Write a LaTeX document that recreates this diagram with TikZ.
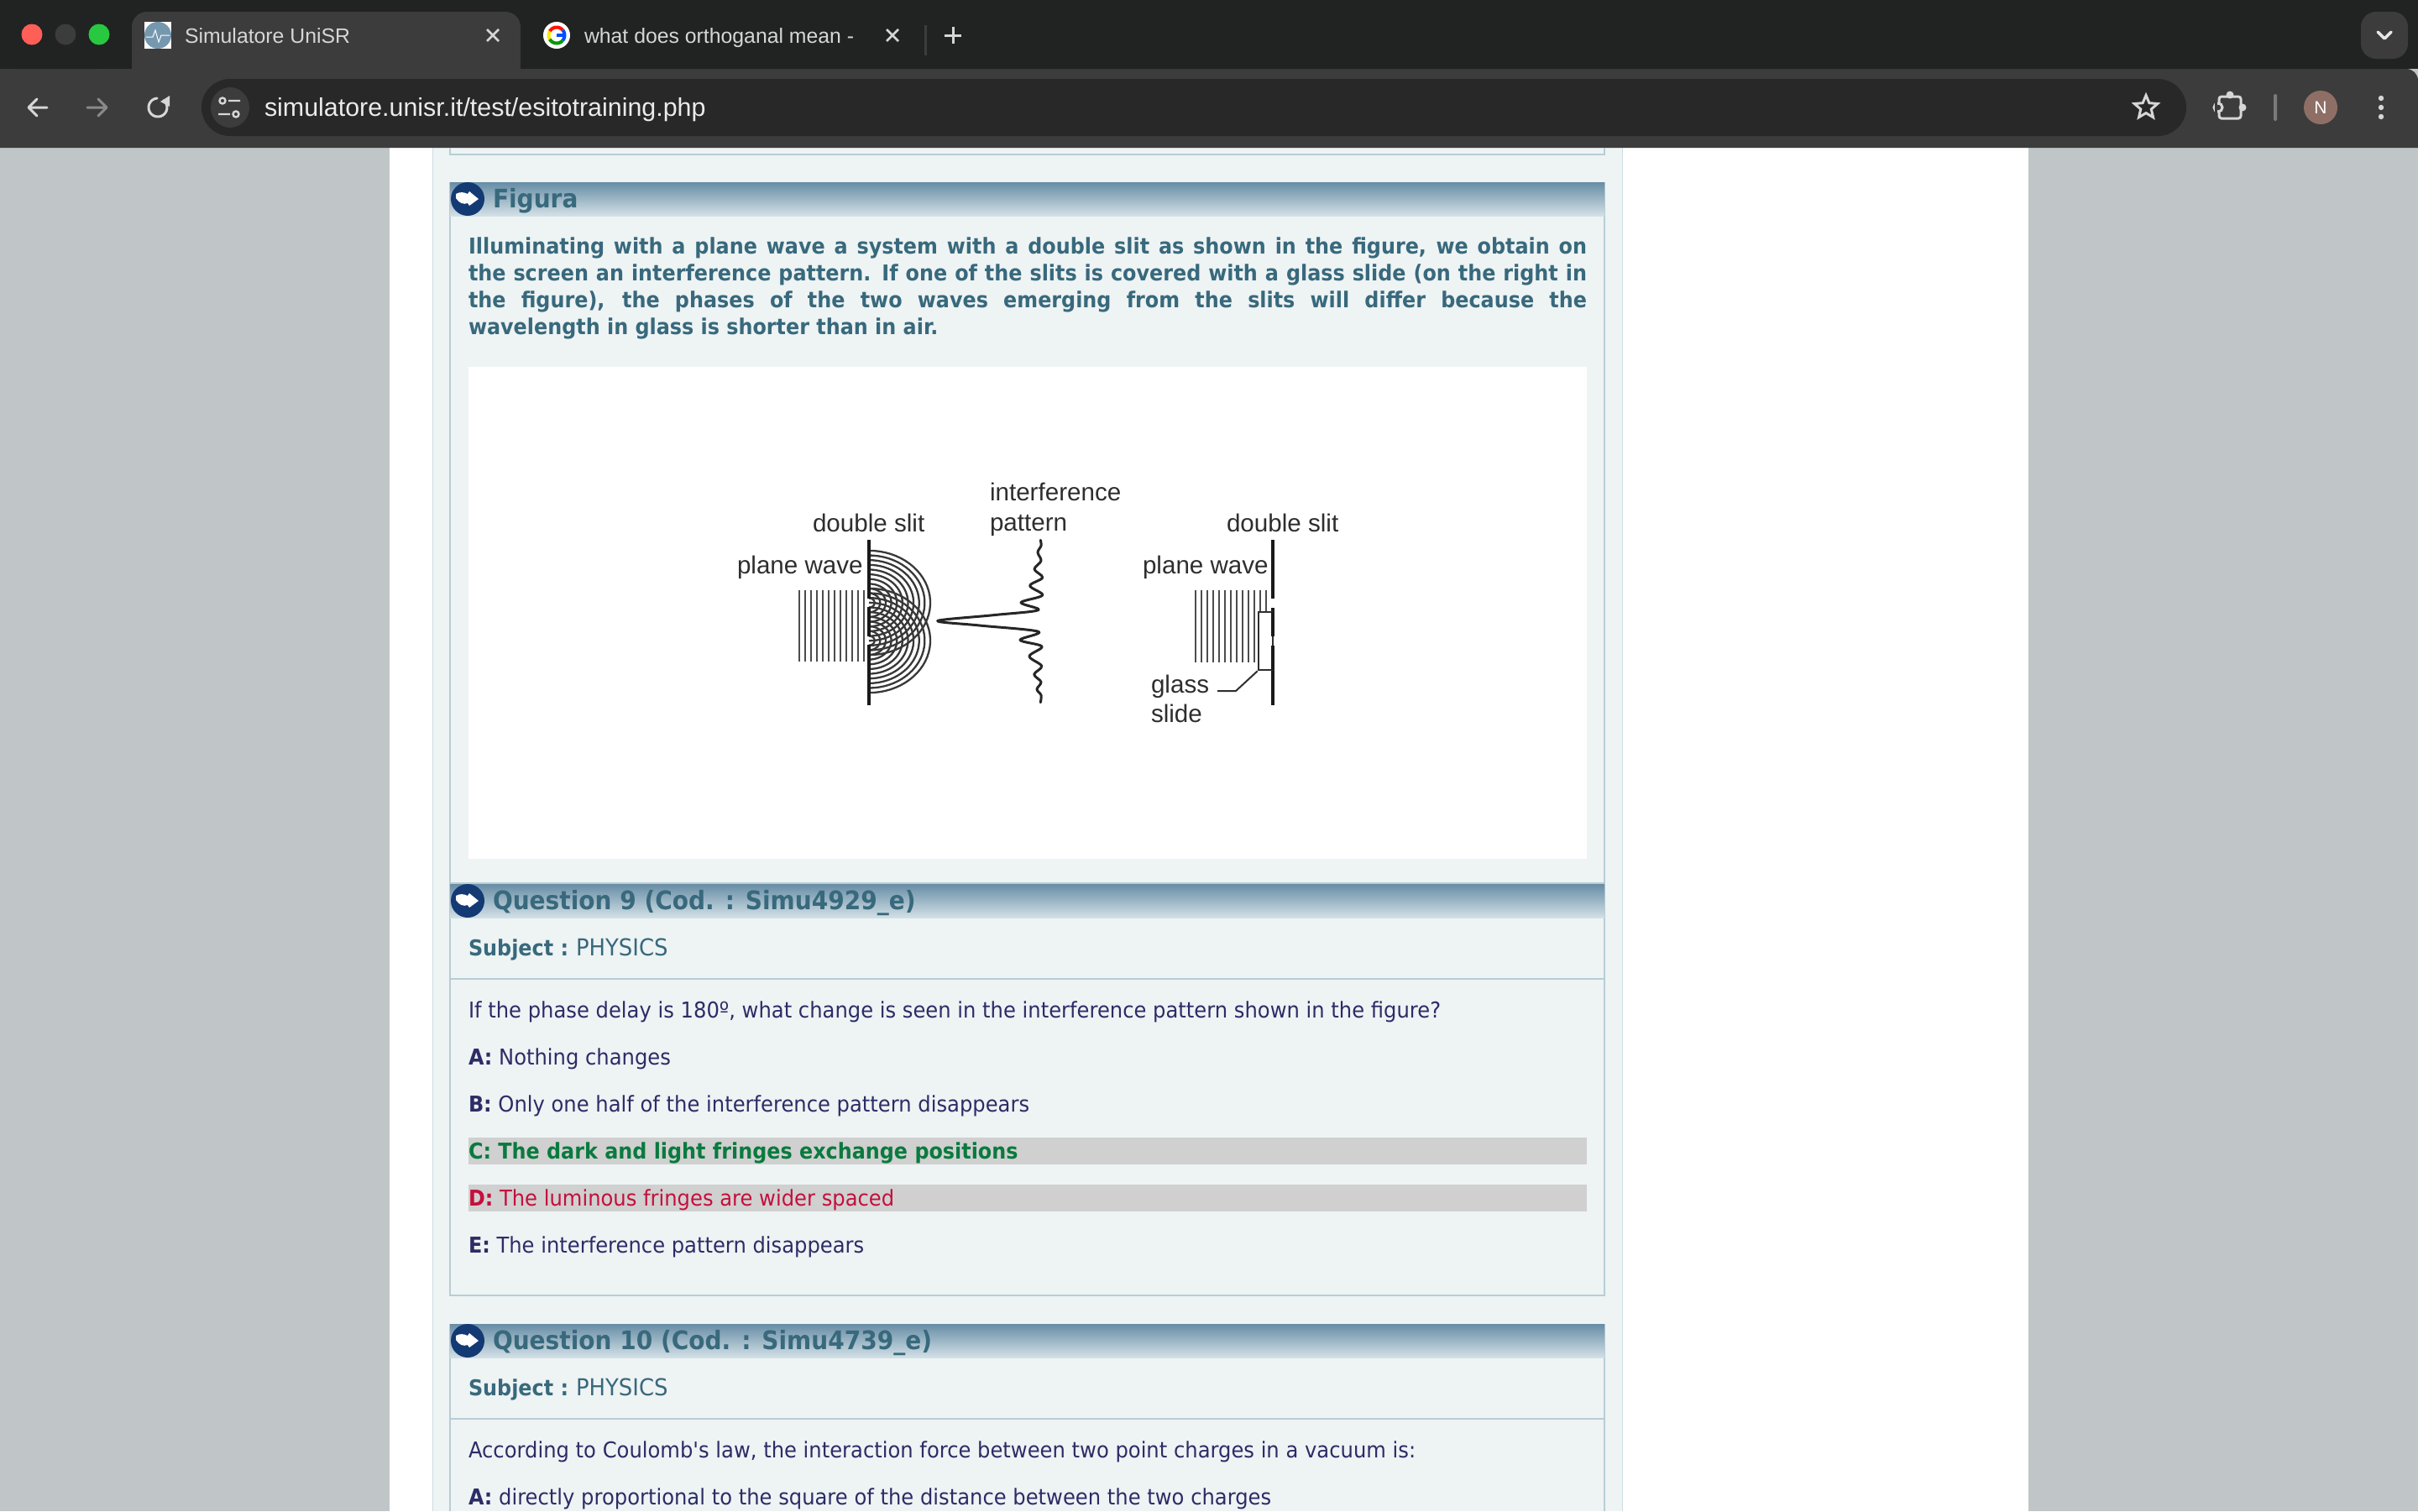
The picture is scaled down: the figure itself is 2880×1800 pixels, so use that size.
\documentclass[tikz,border=0pt]{standalone}
\usepackage{fontspec}
\usetikzlibrary{shapes.geometric}
\setmainfont[FakeStretch=0.932,BoldFeatures={FakeStretch=0.918},Ligatures=TeXOff]{DejaVu Sans}
\newfontfamily\uifont{Liberation Sans}
\definecolor{chromedark}{HTML}{202322}
\definecolor{chromemid}{HTML}{3C3C3C}
\definecolor{addrbar}{HTML}{282828}
\definecolor{uitext}{HTML}{D6D6D6}
\definecolor{pagegrey}{HTML}{C0C5C8}
\definecolor{panelbg}{HTML}{EEF3F4}
\definecolor{boxline}{HTML}{B7CDD5}
\definecolor{hdrtop}{HTML}{678DA6}
\definecolor{hdrbot}{HTML}{D3E0E6}
\definecolor{teal}{HTML}{38697C}
\definecolor{navy}{HTML}{2C2C66}
\definecolor{okgreen}{HTML}{0A7A3E}
\definecolor{badred}{HTML}{C40F3C}
\definecolor{barbg}{HTML}{D0D0D0}
\definecolor{inkline}{HTML}{2E2E2E}
\definecolor{iconblue}{HTML}{143A74}
\definecolor{avatarbg}{HTML}{8F6F65}
\definecolor{macred}{HTML}{FF5F57}
\definecolor{macgreen}{HTML}{28C840}
\tikzset{
  x=1pt,y=-1pt,
  lbl/.style={anchor=base west,inner sep=0pt,outer sep=0pt},
  figlabel/.style={lbl,text=inkline,font=\uifont\fontsize{29.6}{34}\selectfont},
  uilbl/.style={lbl,text=uitext,font=\uifont\fontsize{24.8}{30}\selectfont},
  hdrlabel/.style={lbl,text=teal,font=\bfseries\fontsize{30.5}{34}\selectfont},
  boldpar/.style={lbl,text=teal,font=\bfseries\fontsize{26}{32}\selectfont},
  subj/.style={lbl,text=teal,font=\fontsize{27.8}{32}\selectfont},
  qtext/.style={lbl,text=navy,font=\fontsize{26}{32}\selectfont},
  wave/.style={draw=inkline!85,line width=2.6pt},
  ring/.style={draw=black!78,line width=2.3pt},
  slitbar/.style={draw=black!90,line width=4.5pt},
  boxrule/.style={draw=boxline,line width=2pt},
  uiicon/.style={draw=uitext,line width=3pt,line cap=round,line join=round},
}
\newcommand{\hdrbar}[2]{%
  \shade[top color=hdrtop,bottom color=hdrbot] (536,#1) rectangle (1911,#2);
  \begin{scope}[shift={(557,#1+20)}]
    \fill[iconblue] (0,0) ellipse [x radius=20,y radius=20];
    \fill[white] (-14,-6) .. controls (-9,-9) and (-4,-8) .. (0,-6) -- (2,-9) -- (13,0) -- (2,8) -- (0,5) .. controls (-5,7) and (-10,5) .. (-14,-1) -- cycle;
  \end{scope}
}
\begin{document}
\begin{tikzpicture}
\useasboundingbox (0,0) rectangle (2880,1800);
% page
\fill[pagegrey] (0,0) rectangle (2880,1800);
\fill[white] (464,176) rectangle (2416,1800);
\fill[panelbg] (515,176) rectangle (1932,1800);
\draw[draw=boxline!70,line width=1pt] (515,176) -- (515,1800);
\draw[draw=boxline!70,line width=1pt] (1932,176) -- (1932,1800);
% chrome
\fill[chromedark] (0,0) rectangle (2880,82);
\fill[chromemid] (0,176) -- (0,96) [rounded corners=14pt] -- (0,82) -- (2880,82) [sharp corners] -- (2880,176) -- cycle;
\fill[chromemid,rounded corners=18pt] (157,100) -- (157,14) -- (620,14) -- (620,100) -- cycle;
\fill[addrbar,rounded corners=34pt] (240,94) rectangle (2604,162);
\fill[chromedark] (0,0) rectangle (157,82);
\fill[chromemid] (0,82) rectangle (157,100);
\fill[chromedark] (620,0) rectangle (2880,82);
\fill[chromedark,rounded corners=18pt] (0,60) rectangle (135,82);
\fill[chromedark,rounded corners=18pt] (642,60) rectangle (2880,82);
\fill[chromemid,rounded corners=18pt] (2812,14) rectangle (2868,70);
\fill[chromemid] (157,60) rectangle (620,82);
% window dots
\fill[macred] (38,41) circle (12.5);
\fill[chromemid] (78,41) circle (12.5);
\fill[macgreen] (118,41) circle (12.5);
% tabs
\fill[white] (172,26) rectangle (204,58);
\fill[hdrtop!90!white] (188,42) ellipse [x radius=16,y radius=16];
\draw[white,line width=1pt] (174,44) -- (182,44) -- (185,36) -- (189,50) -- (192,42) -- (202,42);
\node[uilbl] (tab1) at (220,51) {Simulatore UniSR};
\draw[uitext,line width=2.8pt] (580,35) -- (594,49) (594,35) -- (580,49);
\fill[white] (663,42) circle (16);
\foreach \a/\b/\c in {-150/-40/red!85!orange,150/210/yellow!90!orange,40/150/green!60!black,-40/40/blue!70!cyan}
  \draw[\c,line width=4pt] plot[domain=\a:\b,samples=16] ({663+9.5*cos(\x)},{42+9.5*sin(\x)});
\draw[blue!70!cyan,line width=4pt] (663,42) -- (672,42);
\node[uilbl] (tab2) at (696,51) {what does orthoganal mean -};
\draw[uitext,line width=2.8pt] (1056,35) -- (1070,49) (1070,35) -- (1056,49);
\fill[chromemid] (1100.5,30) rectangle (1103.5,66);
\draw[uitext,line width=3pt] (1135,32) -- (1135,52) (1125,42) -- (1145,42);
% toolbar icons
\draw[uiicon] (56,128) -- (35,128) (44,118) -- (34,128) -- (44,138);
\draw[uiicon,draw=uitext!50!chromemid] (104,128) -- (126,128) (117,118) -- (127,128) -- (117,138);
\draw[uiicon] plot[domain=-50:265,samples=30] ({188+11*cos(\x)},{128+11*sin(\x)});
\fill[uitext] (202,114) -- (202,127) -- (191,121) -- cycle;
\fill[chromemid] (274,128) ellipse [x radius=23,y radius=24];
\draw[uitext,line width=2.4pt] (265,120) circle (3.5) (272,120) -- (286,120) (260,136) -- (274,136) (281,136) circle (3.5);
\node[lbl,text=white!92!black,font=\uifont\fontsize{30.4}{36}\selectfont] (url) at (315,138) {simulatore.unisr.it/test/esitotraining.php};
\node[star,star points=5,star point ratio=2.2,minimum size=29pt,inner sep=0pt,draw=uitext,line width=3pt] (bookmark) at (2556,128) {};
\draw[uitext,line width=3pt,rounded corners=3pt] (2643,115) rectangle (2669,141);
\fill[uitext] (2656,113) circle (4.5) (2671,128) circle (4.5);
\fill[chromemid,draw=uitext,line width=3pt] (2642,128) circle (5);
\fill[chromemid] (2638,121) rectangle (2641,135);
\fill[uitext!40!chromemid,rounded corners=1.5pt] (2708,112) rectangle (2712,144);
\node[circle,fill=avatarbg,minimum size=40pt,inner sep=0pt,text=white,font=\uifont\fontsize{21}{24}\selectfont] (avatar) at (2764,128) {N};
\fill[uitext] (2836,117) circle (3.2) (2836,128) circle (3.2) (2836,139) circle (3.2);
\draw[white!90!black,line width=3.5pt,line cap=round,line join=round] (2832,38) -- (2840,46) -- (2848,38);
% boxes
\draw[boxrule] (536,176) -- (536,184) -- (1911,184) -- (1911,176);
\draw[boxrule] (536,217) -- (536,1052) -- (1911,1052) -- (1911,217);
\draw[boxrule] (536,1052) -- (536,1543) -- (1911,1543) -- (1911,1052);
\draw[boxrule] (536,1577) -- (536,1800) (1911,1577) -- (1911,1800);
\draw[boxrule] (536,1166) -- (1911,1166) (536,1690) -- (1911,1690);
\hdrbar{217}{257}
\hdrbar{1053}{1093}
\hdrbar{1577}{1617}
\node[hdrlabel] (figh) at (587,247) {Figura};
\node[hdrlabel] (q9h) at (587,1083) {Question 9 (Cod. : Simu4929\_e)};
\node[hdrlabel] (q10h) at (587,1607) {Question 10 (Cod. : Simu4739\_e)};
% paragraph
\node[boldpar] (p1) at (558,302) {\makebox[1332pt][s]{Illuminating with a plane wave a system with a double slit as shown in the figure, we obtain on}};
\node[boldpar] (p2) at (558,334) {\makebox[1332pt][s]{the screen an interference pattern. If one of the slits is covered with a glass slide (on the right in}};
\node[boldpar] (p3) at (558,366) {\makebox[1332pt][s]{the figure), the phases of the two waves emerging from the slits will differ because the}};
\node[boldpar] (p4) at (558,398) {wavelength in glass is shorter than in air.};
% figure
\fill[white] (558,437) rectangle (1890,1023);
\foreach \i in {0,...,11} \draw[wave] ({952+7*\i},703) -- ({952+7*\i},788);
\foreach \k in {1,...,11} {
  \draw[ring] plot[domain=-90:90,samples=36] ({1035+6.64*\k*cos(\x)},{718+5.65*\k*sin(\x)});
  \draw[ring] plot[domain=-90:90,samples=36] ({1035+6.64*\k*cos(\x)},{763+5.65*\k*sin(\x)});
}
\draw[slitbar] (1035,643) -- (1035,713);
\draw[slitbar] (1035,723) -- (1035,758);
\draw[slitbar] (1035,768) -- (1035,840);
\draw[draw=black!85,line width=3pt,line cap=round,line join=round] plot[smooth,tension=0.55] coordinates {
 (1239.3,643.3) (1240,650) (1236,658) (1240,668) (1232,678) (1241.7,688) (1226.7,697.7) (1241.7,709) (1216,717.7) (1236.7,726.7) (1183,732.7) (1116.7,739.5)
 (1166.7,745) (1236.7,752.3) (1215,762.3) (1241,770) (1226,781.7) (1240.7,793.3) (1231.7,803.3) (1240,812.3) (1235,821) (1240,828) (1239.3,836.7)};
\foreach \i in {0,...,10} \draw[wave] ({1424+7*\i},703) -- ({1424+7*\i},789);
\foreach \i in {11,12} \draw[wave] ({1424+7*\i},703) -- ({1424+7*\i},728);
\draw[slitbar] (1516,643) -- (1516,713);
\draw[slitbar] (1516,724) -- (1516,758);
\draw[slitbar] (1516,769) -- (1516,840);
\node[draw=inkline,fill=white,line width=2.5pt,minimum width=17pt,minimum height=69pt,inner sep=0pt] (slide) at (1507.5,763.5) {};
\draw[slitbar] (1516,729) -- (1516,758);
\draw[slitbar] (1516,769) -- (1516,798);
\coordinate (leadstart) at (1450,823);
\coordinate (leadknee) at (1472,823);
\draw[draw=inkline,line width=2pt] (leadstart) -- (leadknee) -- (slide.south west);
\node[figlabel] (ds1) at (968,633) {double slit};
\node[figlabel] (pw1) at (878,683) {plane wave};
\node[figlabel] (ip1) at (1179,596) {interference};
\node[figlabel] (ip2) at (1179,632) {pattern};
\node[figlabel] (ds2) at (1461,633) {double slit};
\node[figlabel] (pw2) at (1361,683) {plane wave};
\node[figlabel] (gl1) at (1371,825) {glass};
\node[figlabel] (gl2) at (1371,860) {slide};
% question 9
\node[lbl,text=teal,font=\bfseries\fontsize{26}{32}\selectfont] (s9) at (558,1138) {Subject :};
\node[subj] (s9v) at (686,1138) {PHYSICS};
\node[qtext] (q9) at (558,1212) {If the phase delay is 180º, what change is seen in the interference pattern shown in the figure?};
\node[qtext] (a9) at (558,1268) {\textbf{A:} Nothing changes};
\node[qtext] (b9) at (558,1324) {\textbf{B:} Only one half of the interference pattern disappears};
\fill[barbg] (558,1355) rectangle (1890,1387);
\fill[barbg] (558,1411) rectangle (1890,1443);
\node[qtext,text=okgreen,font=\bfseries\fontsize{26}{32}\selectfont] (c9) at (558,1380) {C: The dark and light fringes exchange positions};
\node[qtext,text=badred] (d9) at (558,1436) {\textbf{D:} The luminous fringes are wider spaced};
\node[qtext] (e9) at (558,1492) {\textbf{E:} The interference pattern disappears};
% question 10
\node[lbl,text=teal,font=\bfseries\fontsize{26}{32}\selectfont] (s10) at (558,1662) {Subject :};
\node[subj] (s10v) at (686,1662) {PHYSICS};
\node[qtext] (q10) at (558,1736) {According to Coulomb's law, the interaction force between two point charges in a vacuum is:};
\node[qtext] (a10) at (558,1792) {\textbf{A:} directly proportional to the square of the distance between the two charges};
\end{tikzpicture}
\end{document}
